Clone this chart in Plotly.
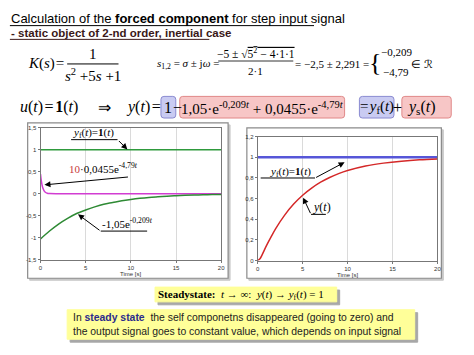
import plotly.graph_objects as go

W, H = 474, 355
def X(px): return px / W
def Y(py): return 1 - py / H

# ---------------- data ----------------
t_forced = [0, 20]
y_forced = [1, 1]

t_self1 = [0, 1, 2, 3, 4, 5, 6, 7, 8, 9, 10, 11, 12, 13, 14, 15, 16, 17, 18, 19, 20]
y_self1 = [-1.03, -0.85, -0.69, -0.56, -0.45, -0.37, -0.30, -0.24, -0.20, -0.16, -0.13,
           -0.105, -0.085, -0.07, -0.056, -0.046, -0.037, -0.03, -0.025, -0.02, -0.016]

t_self2 = [0, 0.1, 0.2, 0.3, 0.4, 0.5, 0.75, 1, 2, 5, 10, 15, 20]
y_self2 = [0.45, 0.28, 0.17, 0.11, 0.065, 0.04, 0.012, 0.004, 0, 0, 0, 0, 0]

t_resp = [0, 0.25, 0.5, 1, 1.5, 2, 3, 4, 5, 6, 7, 8, 9, 10, 12, 14, 16, 18, 20]
y_resp = [0, 0.017, 0.058, 0.149, 0.232, 0.31, 0.44, 0.547, 0.633, 0.702, 0.759, 0.805,
          0.842, 0.872, 0.916, 0.944, 0.963, 0.976, 0.984]

x_ticks = [0, 5, 10, 15, 20]
x_ticktext = ["0", "5", "10", "15", "20"]
yl_ticks = [1.5, 1, 0.5, 0, -0.5, -1, -1.5]
yl_ticktext = ["1,5", "1", "0,5", "0", "-0,5", "-1", "-1,5"]
yr_ticks = [1.2, 1, 0.8, 0.6, 0.4, 0.2, 0]
yr_ticktext = ["1,2", "1", "0,8", "0,6", "0,4", "0,2", "0"]

SERIF = "Liberation Serif"
SANS = "Liberation Sans"

fig = go.Figure()
fig.add_trace(go.Scatter(x=t_forced, y=y_forced, mode="lines", line=dict(color="#2e9a3c", width=1.5),
                         xaxis="x", yaxis="y", showlegend=False))
fig.add_trace(go.Scatter(x=t_self2, y=y_self2, mode="lines", line=dict(color="#d23cd2", width=1.5, shape="spline"),
                         xaxis="x", yaxis="y", showlegend=False))
fig.add_trace(go.Scatter(x=t_self1, y=y_self1, mode="lines", line=dict(color="#2e8a34", width=1.5, shape="spline"),
                         xaxis="x", yaxis="y", showlegend=False))
fig.add_trace(go.Scatter(x=t_forced, y=y_forced, mode="lines", line=dict(color="#5656d8", width=2.5),
                         xaxis="x2", yaxis="y2", showlegend=False))
fig.add_trace(go.Scatter(x=t_resp, y=y_resp, mode="lines", line=dict(color="#d42828", width=1.5, shape="spline"),
                         xaxis="x2", yaxis="y2", showlegend=False))

axcommon = dict(showline=True, linecolor="#777", linewidth=1, mirror=True, ticks="outside", ticklen=2,
                tickcolor="#777", tickfont=dict(family=SANS, size=6, color="#333"), zeroline=False)
shapes = []
annotations = []

def box(x0, y0, x1, y1, fill, line, width=1, layer="below"):
    shapes.append(dict(type="rect", xref="paper", yref="paper", x0=X(x0), x1=X(x1), y0=Y(y1), y1=Y(y0),
                       fillcolor=fill, line=dict(color=line, width=width), layer=layer))

def rbox(x0, y0, x1, y1, fill, line, r=3):
    p = (f"M {X(x0+r)} {Y(y0)} L {X(x1-r)} {Y(y0)} Q {X(x1)} {Y(y0)} {X(x1)} {Y(y0+r)} "
         f"L {X(x1)} {Y(y1-r)} Q {X(x1)} {Y(y1)} {X(x1-r)} {Y(y1)} L {X(x0+r)} {Y(y1)} "
         f"Q {X(x0)} {Y(y1)} {X(x0)} {Y(y1-r)} L {X(x0)} {Y(y0+r)} Q {X(x0)} {Y(y0)} {X(x0+r)} {Y(y0)} Z")
    shapes.append(dict(type="path", xref="paper", yref="paper", path=p, fillcolor=fill,
                       line=dict(color=line, width=1), layer="below"))

def line(x0, y0, x1, y1, color="black", width=1):
    shapes.append(dict(type="line", xref="paper", yref="paper", x0=X(x0), y0=Y(y0), x1=X(x1), y1=Y(y1),
                       line=dict(color=color, width=width)))

def txt(s, x, y, size, family=SERIF, color="black", xanchor="left", yanchor="middle"):
    annotations.append(dict(text=s, x=X(x), y=Y(y), xref="paper", yref="paper", showarrow=False,
                            xanchor=xanchor, yanchor=yanchor, borderpad=0,
                            font=dict(family=family, size=size, color=color)))

def arrow(tx, ty, hx, hy):
    annotations.append(dict(text="", x=X(hx), y=Y(hy), xref="paper", yref="paper", showarrow=True,
                            ax=tx - hx, ay=ty - hy, axref="pixel", ayref="pixel", arrowhead=2,
                            arrowsize=1.2, arrowwidth=1, arrowcolor="black", standoff=0, startstandoff=0))

# ---------- chart frames ----------
box(28, 124, 231, 282, "#c8c8c8", "#c8c8c8")
box(26, 122, 229, 280, "white", "#8a8a8a", 1.2)
box(250, 129, 447, 282, "#c8c8c8", "#c8c8c8")
box(248, 127, 445, 280, "white", "#8a8a8a", 1.2)

# ---------- titles ----------
txt("Calculation of the <b>forced component</b> for step input signal", 8, 16, 13, SANS)
line(8, 23, 316, 23, "black", 1)
txt("<b>- static object of 2-nd order, inertial case</b>", 8, 31, 11.5, SANS, "#3a1818")
line(8, 37, 210, 37, "#3a1818", 1)

# ---------- K(s) ----------
txt("<i>K</i>(<i>s</i>)<span style='font-size:4px'> </span>=", 25, 62, 15)
txt("1", 92, 52, 15, xanchor="center")
line(66, 62, 118, 62, "black", 1)
txt("<i>s</i><sup>2</sup> +5<i>s</i> +1", 92, 73, 15, xanchor="center")

# ---------- roots ----------
txt("<i>s</i><sub>1,2</sub> = <i>σ</i> ± j<i>ω</i> =", 156, 62, 11)
txt("−5 ± √<span style='text-decoration:overline'>5<sup>2</sup> − 4·1·1</span>", 257, 51, 11.5, xanchor="center")
line(219, 59, 295, 59, "black", 0.8)
txt("2·1", 257, 69, 11, xanchor="center")
txt("= −2,5 ± 2,291 =", 296, 62, 11)
txt("{", 371, 61, 26, xanchor="left")
txt("−0,209", 383, 50, 11)
txt("−4,79", 385, 70, 11)
txt("∈ ℛ", 413, 62, 11)

# ---------- y(t) decomposition ----------
rbox(161, 95, 176, 117, "#c9cbf2", "#8a8ad0")
rbox(180, 95, 347, 117, "#f7c6c6", "#e08888")
rbox(362, 95, 397, 117, "#c9cbf2", "#8a8ad0")
rbox(405, 95, 455, 117, "#f7c6c6", "#e08888")
txt("<i>u</i>(<i>t</i>)<span style='font-size:6px'> </span>=<span style='font-size:6px'> </span><b>1</b>(<i>t</i>)", 17, 106, 16)
txt("⇒", 104, 106, 16, xanchor="center")
txt("<i>y</i>(<i>t</i>)<span style='font-size:6px'> </span>=", 125, 106, 16)
txt("1", 168.5, 106, 16, xanchor="center")
txt("−", 178, 106, 16, xanchor="center")
txt("1,05·e<sup>-0,209<i>t</i></sup> + 0,0455·e<sup>-4,79<i>t</i></sup>", 263.5, 107, 15, xanchor="center")
txt("=<span style='font-size:5px'> </span><i>y</i><sub>f</sub>(<i>t</i>)", 379.5, 106, 15, xanchor="center")
txt("+", 401, 106, 16, xanchor="center")
txt("<i>y</i><sub>s</sub>(<i>t</i>)", 409, 106, 16)

# ---------- left chart annotations ----------
txt("<i>y</i><sub>f</sub>(<i>t</i>)=<b>1</b>(<i>t</i>)", 93, 132, 11, xanchor="center")
line(70, 139, 117, 139)
arrow(117, 139, 127, 149)
txt("<span style='color:#c83a3a'>10</span>·0,0455e<sup>-4,79<i>t</i></sup>", 67, 168, 11)
arrow(128, 177, 43, 185)
txt("-1,05e<sup>-0,209<i>t</i></sup>", 100, 224, 11)
line(100, 232, 147, 232)
arrow(100, 232, 77, 215)
txt("Time [s]", 130.5, 276, 6, SANS, "#333", xanchor="center")

# ---------- right chart annotations ----------
txt("<i>y</i><sub>f</sub>(<i>t</i>)=<b>1</b>(<i>t</i>)", 270, 172, 11)
line(262, 178, 317, 178)
arrow(317, 178, 347, 162)
txt("<i>y</i>(<i>t</i>)", 314, 207, 12)
line(313, 215, 328, 215)
arrow(313, 215, 305, 198)
txt("Time [s]", 350, 276.5, 6, SANS, "#333", xanchor="center")

# ---------- bottom boxes ----------
box(158, 292, 342, 307, "#a8a8a8", "#a8a8a8")
box(155, 289, 339, 304, "#ffff99", "#ffff99")
txt("<b>Steadystate:</b>  <i>t</i> → ∞:  <i>y</i>(<i>t</i>) → <i>y</i><sub>f</sub>(<i>t</i>) = 1", 157, 297, 11)

box(69, 315, 421, 345, "#a8a8a8", "#a8a8a8")
box(66, 312, 418, 342, "#ffff99", "#ffff99")
txt("In <b><span style='color:#2b2b8c'>steady state</span></b>  the self componetns disappeared (going to zero) and",
    71, 320, 10.4, SANS, "#222")
txt("the output signal goes to constant value, which depends on input signal", 71, 334, 10.4, SANS, "#222")

fig.update_layout(
    width=W, height=H, margin=dict(l=0, r=0, t=0, b=0),
    paper_bgcolor="white", plot_bgcolor="white",
    xaxis=dict(domain=[X(39), X(222)], range=[0, 20], tickvals=x_ticks, ticktext=x_ticktext,
               showgrid=True, gridcolor="#dadada", gridwidth=1, anchor="y", **axcommon),
    yaxis=dict(domain=[Y(261), Y(127)], range=[-1.5, 1.5], tickvals=yl_ticks, ticktext=yl_ticktext,
               showgrid=False, anchor="x", **axcommon),
    xaxis2=dict(domain=[X(259), X(441)], range=[0, 20], tickvals=x_ticks, ticktext=x_ticktext,
                showgrid=True, gridcolor="#dadada", gridwidth=1, anchor="y2", **axcommon),
    yaxis2=dict(domain=[Y(262), Y(136)], range=[0, 1.2], tickvals=yr_ticks, ticktext=yr_ticktext,
                showgrid=False, anchor="x2", **axcommon),
    shapes=shapes, annotations=annotations, showlegend=False,
)
fig.write_html("out.html", config={"displayModeBar": False},
               post_script="document.body.style.margin='0';")
